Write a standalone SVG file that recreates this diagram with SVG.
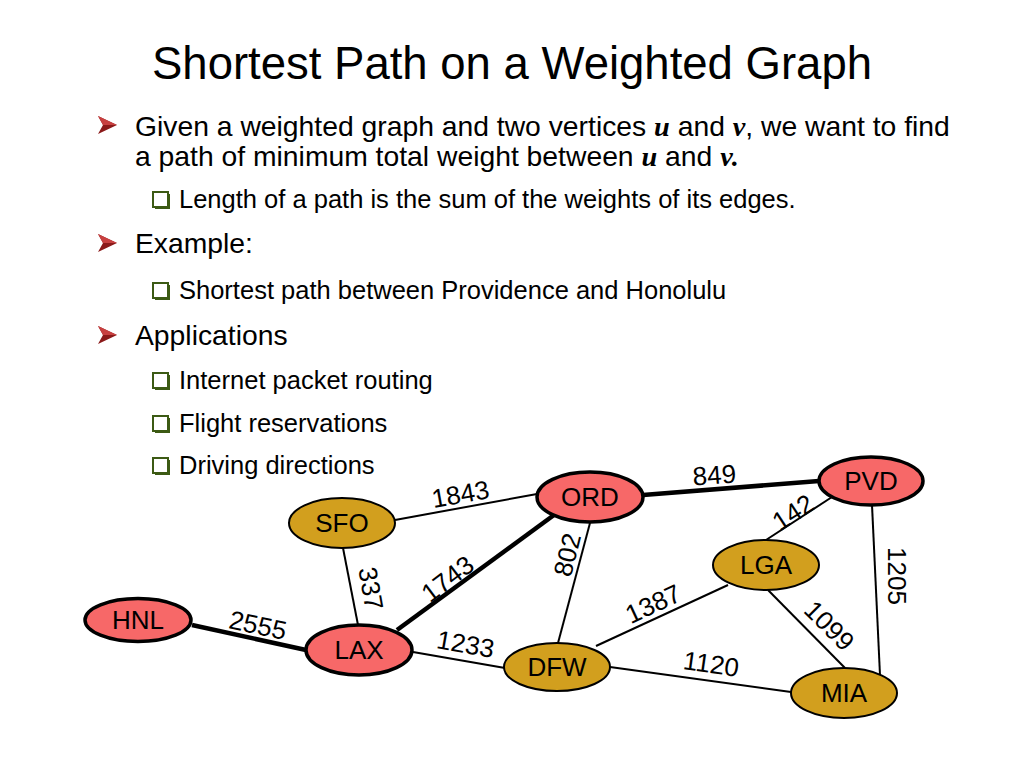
<svg xmlns="http://www.w3.org/2000/svg" width="1024" height="768" viewBox="0 0 1024 768">
<style>
text{font-family:"Liberation Sans",Arial,sans-serif;fill:#000}
.title{font-size:45.5px;text-anchor:middle}
.b1{font-size:28.3px}
.b2{font-size:25.5px}
.it{font-family:"Liberation Serif","Times New Roman",serif;font-style:italic;font-weight:bold}
.red ellipse{fill:#F76868;stroke:#000;stroke-width:3.5}
.gold ellipse{fill:#D29F1E;stroke:#000;stroke-width:2}
.node text{font-size:26px;text-anchor:middle}
.thin{stroke:#000;stroke-width:2;fill:none}
.thick{stroke:#000;stroke-width:4.5;fill:none}
.w{font-size:26px;text-anchor:middle}
</style>
<defs>
<g id="arr"><path d="M0,-9 L19,0 L0,9 L5,0 Z" fill="#8B1A1A"/><path d="M0,-9 L19,0 L5,0 Z" fill="#C84040"/></g>
<g id="box"><rect x="2" y="2" width="15" height="15" fill="#3C5A14"/><rect x="0" y="0" width="15" height="15" fill="#fff" stroke="#3C5A14" stroke-width="2"/></g>
</defs>
<rect width="1024" height="768" fill="#fff"/>
<text class="title" x="512" y="79">Shortest Path on a Weighted Graph</text>

<use href="#arr" x="98" y="125"/>
<text class="b1" x="135" y="136">Given a weighted graph and two vertices <tspan class="it">u</tspan> and <tspan class="it">v</tspan>, we want to find</text>
<text class="b1" x="135" y="166">a path of minimum total weight between <tspan class="it">u</tspan> and <tspan class="it">v.</tspan></text>
<use href="#box" x="153" y="192"/>
<text class="b2" x="179" y="208">Length of a path is the sum of the weights of its edges.</text>
<use href="#arr" x="98" y="243"/>
<text class="b1" x="135" y="253">Example:</text>
<use href="#box" x="153" y="283"/>
<text class="b2" x="179" y="299">Shortest path between Providence and Honolulu</text>
<use href="#arr" x="98" y="335"/>
<text class="b1" x="135" y="345">Applications</text>
<use href="#box" x="153" y="373"/>
<text class="b2" x="179" y="389">Internet packet routing</text>
<use href="#box" x="153" y="416"/>
<text class="b2" x="179" y="432">Flight reservations</text>
<use href="#box" x="153" y="458"/>
<text class="b2" x="179" y="474">Driving directions</text>

<g id="edges">
<line class="thin" x1="395" y1="520" x2="537" y2="494"/>
<line class="thin" x1="343" y1="548" x2="358" y2="625"/>
<line class="thick" x1="192" y1="625" x2="306" y2="650"/>
<line class="thick" x1="397" y1="630" x2="554" y2="515"/>
<line class="thin" x1="413" y1="652" x2="505" y2="668"/>
<line class="thin" x1="590" y1="523" x2="558" y2="643"/>
<line class="thick" x1="643" y1="495" x2="819" y2="481"/>
<line class="thin" x1="832" y1="497" x2="766" y2="540"/>
<line class="thin" x1="872" y1="505" x2="880" y2="675"/>
<line class="thin" x1="728" y1="585" x2="596" y2="646"/>
<line class="thin" x1="768" y1="590" x2="845" y2="668"/>
<line class="thin" x1="610" y1="667" x2="791" y2="692"/>
<text class="w" transform="translate(462,503) rotate(-10)">1843</text>
<text class="w" transform="translate(362,590) rotate(80)">337</text>
<text class="w" transform="translate(256,634) rotate(12)">2555</text>
<text class="w" transform="translate(453,586) rotate(-37)">1743</text>
<text class="w" transform="translate(464,653) rotate(10)">1233</text>
<text class="w" transform="translate(576,557) rotate(-76)">802</text>
<text class="w" transform="translate(715,484) rotate(-4)">849</text>
<text class="w" transform="translate(798,520) rotate(-33)">142</text>
<text class="w" transform="translate(657,612) rotate(-25)">1387</text>
<text class="w" transform="translate(823,632) rotate(45)">1099</text>
<text class="w" transform="translate(888,576) rotate(90)">1205</text>
<text class="w" transform="translate(710,673) rotate(8)">1120</text>
</g>

<g id="HNL" class="node red"><ellipse cx="138" cy="620" rx="53" ry="21.5"/><text x="138" y="629">HNL</text></g>
<g id="SFO" class="node gold"><ellipse cx="342" cy="523" rx="53" ry="25"/><text x="342" y="532">SFO</text></g>
<g id="LAX" class="node red"><ellipse cx="359" cy="650" rx="53" ry="25"/><text x="359" y="659">LAX</text></g>
<g id="ORD" class="node red"><ellipse cx="590" cy="497" rx="53" ry="25"/><text x="590" y="506">ORD</text></g>
<g id="PVD" class="node red"><ellipse cx="871" cy="481" rx="52" ry="24"/><text x="871" y="490">PVD</text></g>
<g id="LGA" class="node gold"><ellipse cx="766" cy="565" rx="53" ry="25"/><text x="766" y="574">LGA</text></g>
<g id="DFW" class="node gold"><ellipse cx="557" cy="667" rx="53" ry="24"/><text x="557" y="676">DFW</text></g>
<g id="MIA" class="node gold"><ellipse cx="844" cy="693" rx="53" ry="25"/><text x="844" y="702">MIA</text></g>
</svg>
